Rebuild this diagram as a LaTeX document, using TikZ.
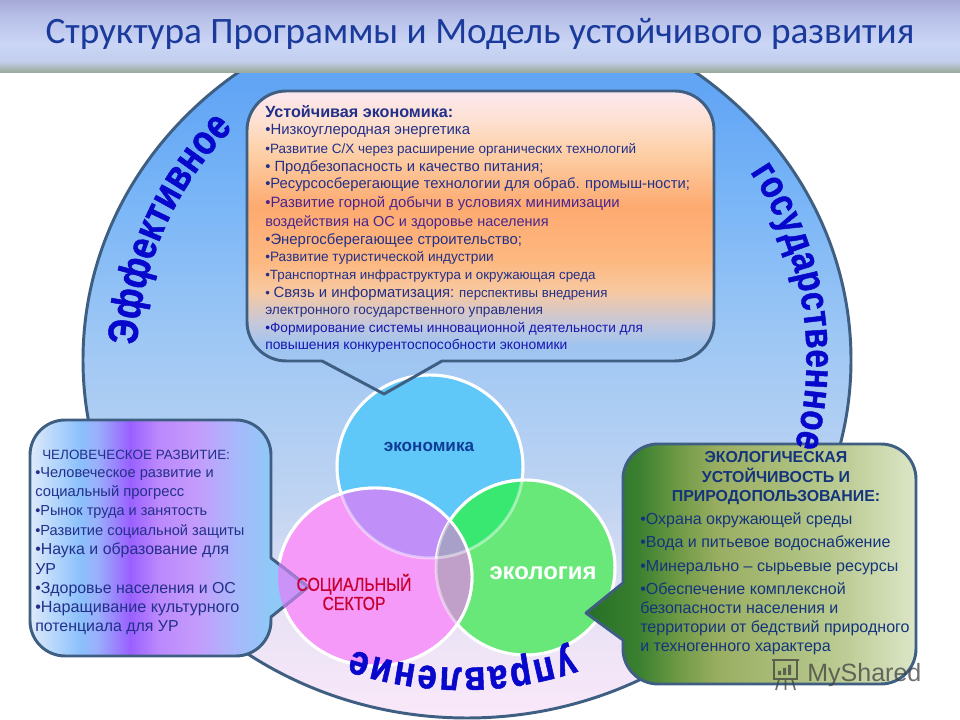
\documentclass[tikz,border=0pt]{standalone}
\usepackage{fontspec}
\setmainfont{Liberation Sans}
\newfontfamily\titlefont{Carlito}
\newfontfamily\wordfont[FakeStretch=0.82,FakeBold=1.2]{Liberation Sans Bold}
\newfontfamily\sectorfont[FakeStretch=0.84,FakeBold=0.5]{Liberation Sans}
\usepackage{xcolor}
\definecolor{borderBlue}{HTML}{3F5F82}
\definecolor{wordBlue}{HTML}{0808CC}
\definecolor{titleBlue}{HTML}{1A3A9C}
\definecolor{lineBlue}{HTML}{22308A}
\definecolor{linePurple}{HTML}{4A2590}
\definecolor{lineBright}{HTML}{1616B0}
\definecolor{lineNavy}{HTML}{14347C}
\definecolor{circBlue}{HTML}{60C8F8}
\definecolor{circPink}{HTML}{F59AF8}
\definecolor{circGreen}{HTML}{68E878}
\definecolor{overBluePink}{HTML}{C090F8}
\definecolor{overBlueGreen}{HTML}{38E870}
\definecolor{overPinkGreen}{HTML}{C0A0C8}
\definecolor{overAll}{HTML}{A8A0C8}
\definecolor{sectorRed}{HTML}{C80030}
\definecolor{econNavy}{HTML}{0E3C96}
\definecolor{br1}{HTML}{98A89A}\definecolor{br2}{HTML}{A8B6B4}\definecolor{br3}{HTML}{C2CEEC}
\definecolor{br4}{HTML}{CBD6F6}\definecolor{br5}{HTML}{B6BEE6}\definecolor{br6}{HTML}{A6A9D6}
\pgfdeclareverticalshading{barshade}{100bp}{color(0bp)=(br1);color(25bp)=(br1);color(28bp)=(br2);
    color(33bp)=(br3);color(45bp)=(br4);color(65bp)=(br5);color(75bp)=(br6);color(100bp)=(br6)}
\definecolor{pl1}{HTML}{FAE8FA}\definecolor{pl2}{HTML}{E6E2F4}\definecolor{pl3}{HTML}{C0D4F2}
\definecolor{pl4}{HTML}{A0C8F4}\definecolor{pl5}{HTML}{7AB6F7}\definecolor{pl6}{HTML}{62A5F5}
\pgfdeclareverticalshading{planshade}{100bp}{color(0bp)=(pl1);color(25bp)=(pl1);color(33bp)=(pl2);
    color(40bp)=(pl3);color(51bp)=(pl4);color(61bp)=(pl5);color(69bp)=(pl6);color(100bp)=(pl6)}
\definecolor{ec1}{HTML}{A0C8F4}\definecolor{ec2}{HTML}{A0C4F0}\definecolor{ec3}{HTML}{C8C8D8}
\definecolor{ec4}{HTML}{F8C8A0}\definecolor{ec5}{HTML}{FDB880}\definecolor{ec6}{HTML}{FDAA70}
\definecolor{ec7}{HTML}{FDD0A8}\definecolor{ec8}{HTML}{FDE0D0}\definecolor{ec9}{HTML}{FBE8F0}
\pgfdeclareverticalshading{econshade}{100bp}{color(0bp)=(ec1);color(25bp)=(ec1);color(33bp)=(ec2);
    color(37bp)=(ec3);color(42bp)=(ec4);color(47bp)=(ec5);color(56bp)=(ec6);color(65bp)=(ec7);
    color(70bp)=(ec8);color(75bp)=(ec9);color(100bp)=(ec9)}
\definecolor{hu1}{HTML}{DFEAFB}\definecolor{hu2}{HTML}{B8D8FB}\definecolor{hu3}{HTML}{8CC0FB}
\definecolor{hu4}{HTML}{9AB0FB}\definecolor{hu5}{HTML}{9A60FF}\definecolor{hu6}{HTML}{BB88FC}
\definecolor{hu7}{HTML}{C49CFC}\definecolor{hu8}{HTML}{A8B8FB}\definecolor{hu9}{HTML}{90C8F8}
\pgfdeclarehorizontalshading{humanshade}{100bp}{color(0bp)=(hu1);color(25bp)=(hu1);color(29bp)=(hu2);
    color(34bp)=(hu3);color(37bp)=(hu4);color(43bp)=(hu5);color(48bp)=(hu6);color(55bp)=(hu7);
    color(62bp)=(hu8);color(68bp)=(hu9);color(100bp)=(hu9)}
\definecolor{ek1}{HTML}{256F25}\definecolor{ek2}{HTML}{3A8030}\definecolor{ek3}{HTML}{6F9A45}
\definecolor{ek4}{HTML}{9AAE62}\definecolor{ek5}{HTML}{A8BC78}\definecolor{ek6}{HTML}{BCCC94}
\definecolor{ek7}{HTML}{DCE6C8}
\pgfdeclarehorizontalshading{ecoshade}{100bp}{color(0bp)=(ek1);color(25bp)=(ek1);color(33bp)=(ek2);
    color(39bp)=(ek3);color(45bp)=(ek4);color(54bp)=(ek5);color(64bp)=(ek6);color(75bp)=(ek7);color(100bp)=(ek7)}
\usepackage{tikz}
\usetikzlibrary{decorations.text}
\tikzset{
    calloutline/.style={
        draw=borderBlue,
        line width=2.1pt,
        line join=round
    },
    ringline/.style={
        draw=white,
        line width=2.1pt
    },
    faintline/.style={
        draw=white,
        opacity=0.45,
        line width=2.1pt
    },
    linetext/.style={
        anchor=base west,
        inner sep=0pt
    },
    headtext/.style={
        anchor=base,
        inner sep=0pt,
        text=lineNavy,
        font=\fontsize{11.3}{11.3}\selectfont\bfseries
    },
    circtext/.style={
        inner sep=0pt,
        font=\bfseries
    },
    markpart/.style={
        black!75,
        opacity=0.75
    },
    bigword/.style={
        decorate,
        decoration={text along path, text align=fit to path, text color=wordBlue, text={#1}}
    }
}
\newcommand{\lgpart}[1]{{\fontsize{10.6}{10.6}\selectfont #1}}
\def\planshape{(467,360) ellipse [x radius=384, y radius=358]}
\def\bluering{(430,253.5) ellipse [x radius=93, y radius=91.5]}
\def\pinkring{(375,143) ellipse [x radius=97, y radius=89]}
\def\greenring{(525.5,152.5) ellipse [x radius=89.5, y radius=87.5]}
\def\econshape{(384,326) -- (442,359) [rounded corners=28pt] -- (714,359) -- (714,629) -- (247,629) -- (247,359) [sharp corners] -- (322,359) -- cycle}
\def\humanshape{(308,133) -- (271,103) [rounded corners=25pt] -- (271,64) -- (30,64) -- (30,300) -- (271,300) [sharp corners] -- (271,162) -- cycle}
\def\ecoshape{(586,107) -- (623,80) [rounded corners=25pt] -- (623,36) -- (916,36) -- (916,276) -- (623,276) [sharp corners] -- (623,137) -- cycle}
\def\humantail{(271,162) -- (308,133) -- (271,103)}

\begin{document}
\begin{tikzpicture}[x=0.025cm, y=0.025cm]
    \useasboundingbox (0,0) rectangle (960,720);
    \fill[white] (0,0) rectangle (960,720);

    \path[calloutline, shading=planshade] \planshape;
    \shade[shading=barshade] (0,647) rectangle (960,720);
    \node[inner sep=0pt, text=titleBlue, font=\titlefont\fontsize{26.5}{26.5}\selectfont] (title) at (480,686) {Структура Программы и Модель устойчивого развития};

    \shade[shading=econshade] \econshape;

    \fill[circBlue] \bluering;
    \draw[ringline] \bluering;
    \fill[circGreen] \greenring;
    \draw[ringline] \greenring;
    \fill[circPink] \pinkring;
    \draw[ringline] \pinkring;
    \begin{scope}
        \clip \bluering;
        \fill[overBlueGreen] \greenring;
        \fill[overBluePink] \pinkring;
        \draw[ringline] \greenring;
    \end{scope}
    \begin{scope}
        \clip \pinkring;
        \fill[overPinkGreen] \greenring;
        \clip \bluering;
        \fill[overAll] \greenring;
    \end{scope}
    \draw[faintline] \bluering;
    \draw[faintline] \greenring;
    \draw[ringline] \pinkring;

    \path[calloutline] \econshape;
    \path[calloutline, shading=humanshade] \humanshape;
    \begin{scope}
        \clip \pinkring;
        \fill[overBluePink!80!circPink] \humantail -- cycle;
        \draw[overBluePink!85!black, line width=2.1pt] \humantail;
    \end{scope}
    \path[calloutline, shading=ecoshade] \ecoshape;

    \foreach \y/\fs/\col/\txt [count=\i] in {
        602/11.5/lineBlue/{\textbf{Устойчивая экономика:}},
        585/10.6/lineBlue/{•Низкоуглеродная энергетика},
        566/9.6/lineBlue/{•Развитие С/Х через расширение органических технологий},
        548/10.5/lineBlue/{• Продбезопасность и качество питания;},
        531/10.5/lineBlue/{•Ресурсосберегающие технологии для обраб. промыш-ности;},
        512/10.6/linePurple/{•Развитие горной добычи в условиях минимизации},
        493/10.3/linePurple/{воздействия на ОС и здоровье населения},
        475/10.6/lineBlue/{•Энергосберегающее строительство;},
        458/9.7/lineBlue/{•Развитие туристической индустрии},
        440/9.5/lineBlue/{•Транспортная инфраструктура и окружающая среда},
        422/9.4/lineBlue/{• \lgpart{Связь и информатизация:} перспективы внедрения},
        405/9.7/lineBlue/{электронного государственного управления},
        387/9.7/lineBright/{•Формирование системы инновационной деятельности для},
        370/9.85/lineBright/{повышения конкурентоспособности экономики}
    }
        \node[linetext, text=\col, font=\fontsize{\fs}{\fs}\selectfont] (econ\i) at (265,\y) {\txt};

    \foreach \x/\y/\fs/\txt [count=\i] in {
        42/260/9.55/{ЧЕЛОВЕЧЕСКОЕ  РАЗВИТИЕ:},
        35/242/10.4/{•Человеческое развитие и},
        35/223/10.5/{социальный прогресс},
        35/204/10.3/{•Рынок труда и занятость},
        35/184/10.4/{•Развитие социальной защиты},
        35/165/11.3/{•Наука и образование для},
        35/145/11.3/УР,
        35/126/11.3/{•Здоровье населения и ОС},
        35/107/11.5/{•Наращивание культурного},
        35/88/11.3/{потенциала для УР}
    }
        \node[linetext, text=lineBlue, font=\fontsize{\fs}{\fs}\selectfont] (human\i) at (\x,\y) {\txt};

    \node[headtext] (ecohead1) at (776,257) {ЭКОЛОГИЧЕСКАЯ};
    \node[headtext] (ecohead2) at (776,237) {УСТОЙЧИВОСТЬ И};
    \node[headtext] (ecohead3) at (776,218) {ПРИРОДОПОЛЬЗОВАНИЕ:};
    \foreach \y/\txt [count=\i] in {
        195/{•Охрана окружающей среды},
        172/{•Вода и питьевое водоснабжение},
        148/{•Минерально – сырьевые ресурсы},
        125/{•Обеспечение комплексной},
        106/{безопасности населения и},
        87/{территории от бедствий природного},
        68/{и техногенного характера}
    }
        \node[linetext, text=lineNavy, font=\fontsize{11.4}{11.4}\selectfont] (eco\i) at (640,\y) {\txt};

    \node[circtext, text=econNavy, font=\fontsize{12.2}{12.2}\selectfont\bfseries] (econlabel) at (429,273) {экономика};
    \node[circtext, text=white, font=\fontsize{17}{17}\selectfont\bfseries] (ecolabel) at (543,147) {экология};
    \node[circtext, text=sectorRed, align=center, font=\sectorfont\fontsize{13.4}{13.6}\selectfont] (sociallabel) at (354,128) {СОЦИАЛЬНЫЙ\\СЕКТОР};

    \path[bigword={|\wordfont\fontsize{30}{30}\selectfont|Эффективное}] (137,375) arc [start angle=177, end angle=136, radius=332];
    \path[bigword={|\wordfont\fontsize{28.5}{28.5}\selectfont|государственное}] (750,548) arc [start angle=33.6, end angle=-15, radius=338];
    \path[bigword={|\wordfont\fontsize{30}{30}\selectfont|управление}] (572,70) arc [start angle=288.5, end angle=251.5, radius=345];

    \node[inner sep=0pt, anchor=base west, text=black!75, opacity=0.75, font=\fontsize{17.8}{17.8}\selectfont] (mark) at (807,38) {MyShared};
    \draw[markpart, line width=1.2pt] (772,60) -- (799,60) (774,60) rectangle (797,41) (779,41) -- (776,30) (792,41) -- (795,30) (785.5,41) -- (785.5,30);
    \fill[markpart] (778,45) rectangle (781,49) (783,45) rectangle (786,52) (788,45) rectangle (791,55);
\end{tikzpicture}
\end{document}
